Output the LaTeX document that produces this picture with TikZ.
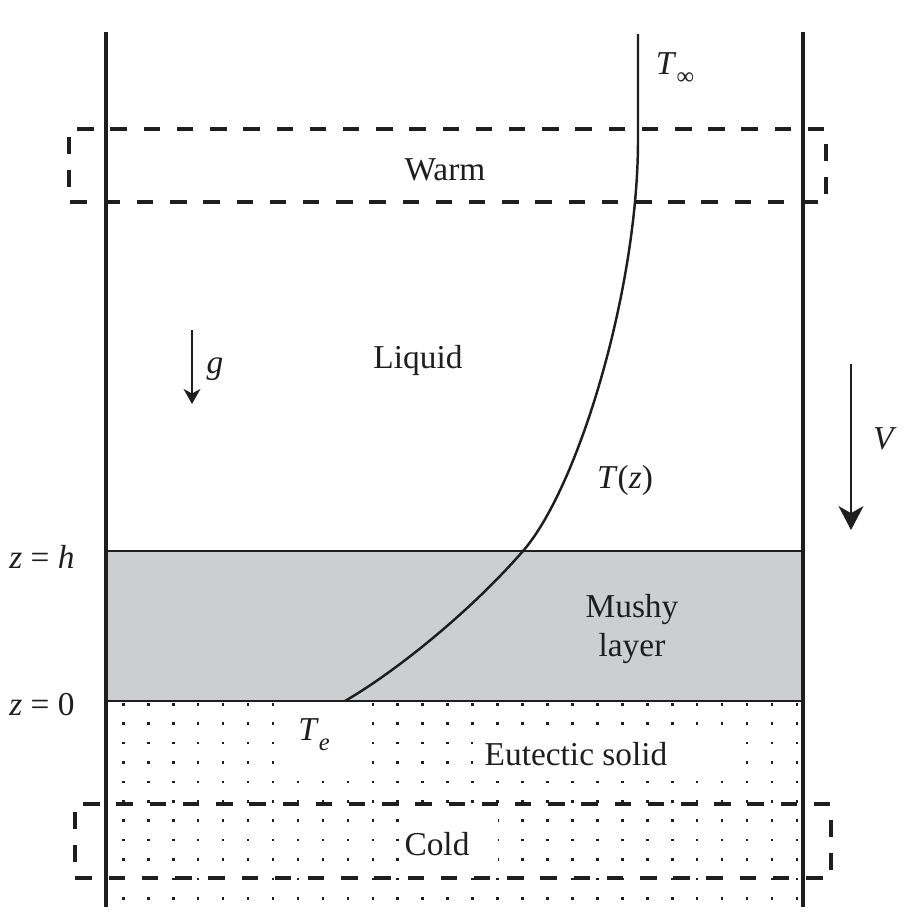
\documentclass[tikz,border=0pt]{standalone}
\usepackage{fontspec}
\setmainfont{Liberation Serif}
\usetikzlibrary{arrows.meta}
\definecolor{mushy}{RGB}{205,206,208}
\definecolor{ink}{RGB}{30,30,30}
\newcommand{\low}[1]{\raisebox{-0.3em}{\fontsize{14}{14}\selectfont #1}}
\tikzset{
  every node/.style={inner sep=0pt,text=ink,font=\fontsize{19}{22.3}\selectfont},
  wall/.style={draw=ink,line width=2.45pt},
  level/.style={draw=ink,line width=1.3pt},
  band/.style={draw=ink,line width=2pt,dash pattern=on 9.4pt off 9.5pt,dash phase=14.3pt}
}
\begin{document}
\begin{tikzpicture}[x=0.02cm,y=-0.02cm]
\useasboundingbox (0,0) rectangle (910,913);
% layers
\fill [mushy] (106,551) rectangle (803,701);
\foreach \row in {704.3,723.7,743.1,762.5,781.9,801.3,820.7,840.1,859.5,878.9,898.3}
  \foreach \col in {0,...,27}
    \fill [ink] (123.3+24.95*\col-1.3,\row-1.3) rectangle +(2.6,2.6);
\fill [white] (286,703) rectangle (362,772);
\fill [white] (473,735) rectangle (746,772);
\fill [white] (411,812) rectangle (498,868);
% corners
\coordinate (wallLT) at (106,32);
\coordinate (wallLB) at (106,907);
\coordinate (wallRT) at (803,32);
\coordinate (wallRB) at (803,907);
\coordinate (hL) at (106,551);
\coordinate (hR) at (803,551);
\coordinate (zeroL) at (106,701);
\coordinate (zeroR) at (803,701);
\coordinate (warmA) at (69,129);
\coordinate (warmB) at (826,202);
\coordinate (coldA) at (75,804);
\coordinate (coldB) at (831,878);
\coordinate (gTop) at (192,330);
\coordinate (gEnd) at (192,404);
\coordinate (vTop) at (851,364);
\coordinate (vEnd) at (851,530);
\coordinate (curveTop) at (638,34);
\coordinate (curveMid) at (523,551);
\coordinate (curveBot) at (345,701);
\draw [band] (warmA) rectangle (warmB);
\draw [band] (coldA) rectangle (coldB);
\draw [level,line width=1.5pt] (hL) -- (hR);
\draw [level,line width=1.1pt] (zeroL) -- (zeroR);
\draw [wall] (wallLT) -- (wallLB);
\draw [wall] (wallRT) -- (wallRB);
% temperature
\draw [draw=ink,line width=1.4pt] (curveTop) -- (638,140)
  .. controls (638,290) and (578,488) .. (curveMid)
  .. controls (470,612) and (395,672) .. (curveBot);
% gravity and speed
\draw [draw=ink,line width=1.3pt,-{Stealth[length=8.5pt,width=9.5pt,inset=2.5pt]}] (gTop) -- (gEnd);
\draw [draw=ink,line width=1.1pt,-{Stealth[length=13.6pt,width=14.2pt,inset=4pt]}] (vTop) -- (vEnd);
% labels
\node (warm) at (445,170) {Warm};
\node (liquid) at (418,360) {Liquid};
\node (mushy) at (632,629) [align=center] {Mushy\\layer};
\node (eutectic) at (576,754.5) {Eutectic solid};
\node (cold) at (437,844.5) {Cold};
\node (tinf) at (675,69) {\textit{T}\low{∞}};
\node (tz) at (625,480.5) {\textit{T}(\textit{z})};
\node (te) at (314,735) {\textit{T}\low{\textit{e}}};
\node (glab) at (215,369) {\textit{g}};
\node (vlab) at (885,439) {\textit{V}};
\node (zh) at (42,557) {\textit{z} = \textit{h}};
\node (zzero) at (42,705) {\textit{z} = 0};
\end{tikzpicture}
\end{document}
